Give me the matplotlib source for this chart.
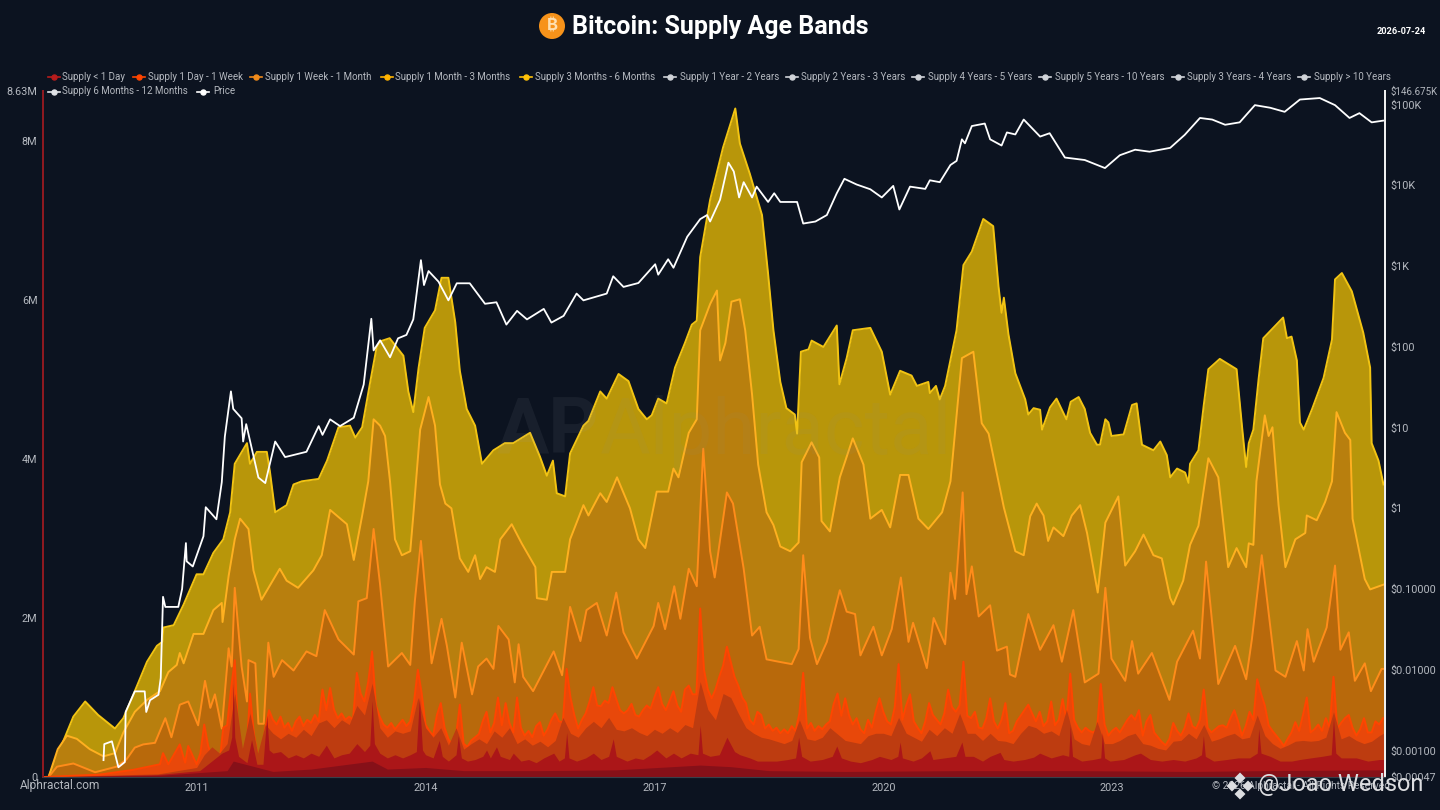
import matplotlib
matplotlib.use("Agg")
import matplotlib.pyplot as plt
from matplotlib.lines import Line2D
from matplotlib.patches import Ellipse, Polygon

plt.rcParams['font.family'] = ['Roboto', 'DejaVu Sans']

# ---------- data: years (decimal) and supply in millions of BTC ----------
t_a = [2009.00,2009.06,2009.21,2009.385,2009.54,2009.71,2009.93,2010.04,2010.19,2010.35,2010.48,2010.55,2010.565,2010.70,2010.83,2011.00,2011.09,2011.22,2011.35,2011.44,2011.50,2011.66,2011.70,2011.79,2011.92,2011.96,2012.03,2012.18,2012.27,2012.38,2012.60,2012.71,2012.86,2013.01,2013.08,2013.17,2013.27,2013.36,2013.405,
2013.53,2013.71,2013.775,2013.84,2013.91,2013.99,2014.125,2014.21,2014.30,2014.39,2014.45,2014.54,2014.65,2014.74,2014.89,2015.04,2015.15,2015.37,2015.50,2015.59,2015.67,2015.72,2015.83,2015.895,2016.07,2016.135,2016.29,2016.375,2016.53,2016.66,2016.79,2016.90,2016.965,2017.05,2017.16,2017.27,2017.40,2017.49,2017.555,2017.60,
2017.73,2017.90,2018.06,2018.12,2018.25,2018.41,2018.49,2018.56,2018.65,2018.73,2018.84,2018.87,2018.92,2019.02,2019.06,2019.215,2019.39,2019.425,2019.52,2019.60,2019.83,2019.98,2020.09,2020.22,2020.37,2020.44,2020.59,2020.61,2020.69,2020.74,2020.81,2020.96,2021.05,2021.16,2021.31,2021.44,2021.51,2021.55,2021.58,2021.64,2021.73,2021.86,2021.90,2021.97,2022.055,
2022.08,2022.185,2022.27,2022.40,2022.456,2022.56,2022.64,2022.71,2022.80,2022.84,2022.91,2022.95,2022.99,2023.15,2023.26,2023.32,2023.39,2023.54,2023.63,2023.715,2023.76,2023.85,2023.955,2024.00,2024.02,2024.13,2024.20,2024.26,2024.41,2024.63,2024.70,2024.755,2024.79,2024.85,2024.92,2024.98,2025.11,2025.24,2025.29,2025.35,2025.42,2025.46,2025.51,2025.62,2025.77,2025.88,2025.92,2026.01,2026.14,2026.29,2026.38,2026.40,2026.49,2026.555]
v_a = [0,0,0.35,0.76,0.95,0.78,0.61,0.74,1.08,1.45,1.65,1.70,1.88,1.91,2.17,2.55,2.55,2.82,2.99,3.33,3.94,4.20,3.94,4.09,4.09,3.85,3.33,3.42,3.68,3.72,3.75,3.98,4.40,4.42,4.27,4.40,4.94,5.41,5.48,
5.52,5.30,4.85,4.59,5.15,5.65,5.87,6.28,6.28,5.72,5.11,4.63,4.42,3.94,4.11,4.20,4.20,4.33,4.03,3.79,3.98,3.57,3.53,4.07,4.42,4.48,4.85,4.76,5.07,4.98,4.63,4.50,4.55,4.76,4.70,5.15,5.46,5.69,5.74,6.54,
7.26,7.92,8.41,7.97,7.59,7.07,6.33,5.62,4.97,4.64,4.56,4.32,5.35,5.38,5.49,5.41,5.68,4.94,5.27,5.62,5.65,5.35,4.81,5.11,5.05,4.92,4.97,4.83,4.92,4.75,4.92,5.62,6.44,6.61,7.02,6.93,6.17,5.84,6.03,5.57,5.08,4.75,4.56,4.64,4.62,
4.37,4.65,4.76,4.50,4.72,4.78,4.63,4.33,4.18,4.18,4.50,4.46,4.29,4.31,4.68,4.70,4.18,4.11,4.22,4.05,3.77,3.88,3.83,3.70,3.94,4.11,4.68,5.13,5.26,5.13,4.42,3.90,4.20,4.37,5.02,5.52,5.65,5.78,5.52,5.54,5.24,4.46,4.37,4.63,5.02,5.50,6.26,6.34,6.11,5.59,5.15,4.20,3.98,3.68]

t_b = [2009.00,2009.06,2009.18,2009.30,2009.43,2009.60,2009.78,2009.93,2010.04,2010.19,2010.35,2010.52,2010.63,2010.74,2010.78,2010.83,2010.96,2011.09,2011.22,2011.33,2011.34,2011.42,2011.50,2011.57,2011.68,2011.745,2011.85,2012.09,2012.18,2012.33,2012.53,2012.64,2012.75,2012.97,2013.06,2013.17,2013.25,2013.32,2013.405,
2013.47,2013.535,2013.60,2013.69,2013.80,2013.84,2013.93,2014.04,2014.125,2014.19,2014.26,2014.34,2014.45,2014.56,2014.65,2014.715,2014.80,2014.91,2014.98,2015.13,2015.26,2015.44,2015.46,2015.59,2015.655,2015.83,2015.895,2016.07,2016.135,2016.29,2016.375,2016.51,2016.68,2016.79,2016.88,2017.03,2017.18,2017.25,2017.315,2017.45,2017.555,2017.60,
2017.73,2017.82,2017.86,2017.93,2018.01,2018.12,2018.19,2018.28,2018.36,2018.47,2018.56,2018.65,2018.78,2018.89,2018.93,2019.06,2019.16,2019.19,2019.30,2019.43,2019.60,2019.74,2019.83,2019.98,2020.09,2020.22,2020.33,2020.46,2020.59,2020.77,2020.88,2021.03,2021.18,2021.29,2021.38,2021.58,2021.73,2021.84,2021.925,2022.01,2022.055,
2022.10,2022.16,2022.23,2022.36,2022.47,2022.58,2022.67,2022.81,2022.91,2023.08,2023.17,2023.30,2023.41,2023.54,2023.65,2023.76,2023.80,2023.93,2024.02,2024.13,2024.26,2024.39,2024.52,2024.63,2024.755,2024.79,2024.85,2024.89,2025.00,2025.05,2025.10,2025.18,2025.27,2025.40,2025.53,2025.55,2025.68,2025.79,2025.88,2025.94,2026.05,2026.12,2026.15,2026.31,2026.38,2026.555]
v_b = [0,0,0.35,0.52,0.48,0.35,0.26,0.30,0.56,0.82,0.97,1.08,1.32,1.41,1.56,1.43,1.80,1.80,2.10,2.19,1.95,2.53,2.99,3.25,3.12,2.60,2.23,2.62,2.47,2.38,2.60,2.79,3.36,3.18,2.73,3.29,3.72,4.50,4.42,
4.29,3.72,2.99,2.79,2.84,3.29,4.37,4.78,4.42,3.68,3.44,3.38,2.75,2.58,2.79,2.49,2.64,2.58,2.99,3.18,2.94,2.64,2.25,2.23,2.58,2.58,2.99,3.42,3.29,3.57,3.46,3.77,3.38,2.99,2.88,3.59,3.59,3.88,3.77,4.33,4.50,5.62,
5.95,6.12,5.24,5.46,5.98,6.01,5.62,4.81,3.93,3.33,3.17,2.90,2.84,2.95,3.96,4.21,4.02,3.22,3.09,3.77,4.26,3.93,3.25,3.36,3.14,3.80,3.80,3.25,3.12,3.33,3.72,5.27,5.35,4.45,4.32,3.39,2.84,2.79,3.28,3.44,3.36,
3.29,2.97,3.14,3.03,3.29,3.42,3.07,2.32,3.20,3.53,2.66,2.84,3.05,2.79,2.75,2.25,2.17,2.47,2.92,3.16,4.01,3.77,2.64,2.88,2.64,2.94,2.92,3.72,4.55,4.29,4.40,3.42,2.64,2.99,3.07,3.29,3.23,3.46,3.72,4.59,4.33,4.24,3.25,2.49,2.36,2.42]

t_c = [2009.00,2009.06,2009.17,2009.385,2009.67,2009.95,2010.08,2010.19,2010.30,2010.455,2010.59,2010.67,2010.78,2010.89,2011.02,2011.11,2011.18,2011.24,2011.33,2011.42,2011.46,2011.50,2011.59,2011.66,2011.68,2011.77,2011.81,2011.88,2011.94,2012.01,2012.12,2012.27,2012.44,2012.57,2012.68,2012.86,2013.06,2013.12,2013.23,2013.32,2013.405,
2013.51,2013.69,2013.80,2013.86,2013.94,2013.99,2014.08,2014.21,2014.28,2014.39,2014.475,2014.61,2014.69,2014.80,2014.89,2014.955,2015.09,2015.17,2015.22,2015.28,2015.41,2015.55,2015.68,2015.79,2015.895,2016.03,2016.11,2016.245,2016.375,2016.50,2016.595,2016.77,2016.99,2017.05,2017.14,2017.26,2017.34,2017.45,2017.555,2017.64,
2017.73,2017.79,2017.95,2018.03,2018.17,2018.28,2018.38,2018.47,2018.63,2018.80,2018.89,2018.95,2019.04,2019.13,2019.26,2019.43,2019.52,2019.63,2019.70,2019.87,2019.98,2020.11,2020.23,2020.33,2020.39,2020.57,2020.66,2020.81,2020.88,2020.94,2021.04,2021.09,2021.16,2021.25,2021.40,2021.49,2021.62,2021.66,2021.73,2021.90,2022.055,
2022.23,2022.34,2022.49,2022.64,2022.82,2022.91,2022.99,2023.17,2023.26,2023.34,2023.52,2023.75,2023.85,2024.06,2024.15,2024.23,2024.39,2024.61,2024.755,2024.83,2024.96,2025.14,2025.27,2025.42,2025.51,2025.56,2025.64,2025.81,2025.92,2025.99,2026.10,2026.18,2026.31,2026.39,2026.53,2026.555]
v_c = [0,0,0.13,0.17,0.06,0.13,0.22,0.37,0.41,0.43,0.74,0.50,0.91,0.95,0.65,1.21,0.87,1.04,0.61,1.62,1.39,2.38,1.39,0.95,1.47,1.43,0.67,0.67,1.69,1.26,1.47,1.34,1.58,1.52,2.10,1.73,1.54,2.21,2.25,3.12,2.42,
1.39,1.56,1.41,2.21,2.97,2.42,1.43,1.99,1.65,1.00,1.69,1.04,1.39,1.49,1.36,1.90,1.73,1.19,1.67,1.26,1.08,1.34,1.58,1.28,2.14,1.71,2.10,2.19,1.78,2.32,1.82,1.49,1.90,2.19,1.86,2.40,1.99,2.62,2.40,4.13,
2.84,2.51,3.58,3.44,2.62,1.78,1.89,1.48,1.45,1.42,1.61,2.79,1.75,1.42,1.70,2.35,2.08,2.05,1.53,1.89,1.53,1.86,2.51,1.70,1.94,1.37,2.00,1.67,2.57,2.24,3.58,2.30,2.65,2.02,2.16,1.59,1.64,1.29,1.26,2.05,1.60,
1.91,1.45,2.10,1.19,1.30,2.38,1.49,1.21,1.71,1.30,1.56,0.97,1.45,1.84,1.49,2.71,1.17,1.65,1.23,1.73,2.79,1.34,1.26,1.71,1.34,1.86,1.45,1.88,2.66,1.60,1.82,1.21,1.43,1.08,1.36,1.36]

# spiky band, read every 0.05 year from 2011 on
t_d_early = [2009.00,2009.73,2010.17,2010.52,2010.56,2010.63,2010.78,2010.85,2010.89]
v_d_early = [0,0.03,0.09,0.16,0.30,0.16,0.41,0.18,0.39]
v_d_grid = [
.16,.30,.66,.40,.24,.30,.18,.62,.65,1.10,1.47,.42,.22,.22,1.05,.55,.26,.17,.62,.84,
.72,.66,.76,.62,.68,.58,.70,.76,.64,.72,.68,.78,.70,1.10,.84,1.12,.85,.74,.80,.72,
.76,.72,1.31,1.05,.95,1.20,1.58,.90,.76,.66,.62,.68,.60,.66,.72,.64,.70,.95,1.35,1.05,
.66,.58,.52,.78,.93,.62,.48,.40,.52,.91,.42,.38,.46,.50,.54,.70,.82,.56,.68,1.00,
.65,.93,.68,.56,1.00,.62,.52,.58,.50,.64,.69,.52,.60,.72,.80,.70,.69,1.36,1.00,.78,
.61,.72,.80,.95,1.13,.90,.89,.96,.93,1.13,.98,.84,.80,.84,.92,.78,.76,.84,.90,.86,
1.00,1.13,.92,.84,.96,1.08,.90,.82,1.10,1.15,1.04,1.04,2.12,1.35,1.10,.99,1.10,1.26,1.40,1.64,
1.45,1.26,1.15,1.00,.93,.72,.66,.82,.78,.61,.66,.58,.62,.55,.60,.55,.64,.58,.80,1.31,
.61,.68,.58,.64,.60,.66,.70,.92,1.05,.77,.99,.78,.66,.74,.60,.55,.72,.62,.82,.99,
.82,.70,.66,.88,1.42,.72,.90,1.04,.70,.62,.55,.70,.93,.78,.72,.66,.80,1.10,.88,.82,
.90,1.45,.77,.74,.82,.62,.61,.74,.99,.70,.61,.72,.93,.55,.58,.70,.77,.84,.91,.80,
.70,.82,.64,.70,.95,.65,.72,.98,.72,1.30,.72,.62,.56,.62,.58,.56,.60,1.17,.66,.52,
.58,.62,.56,.64,.72,.78,.72,.84,.52,.70,.78,.56,.50,.44,.40,.48,.68,.58,.52,.62,
.80,.64,.61,.72,1.10,.62,.56,.60,.64,.65,.62,.74,.84,.70,.52,.64,.82,.72,1.23,1.05,
.90,.65,.58,.52,.46,.39,.48,.56,.69,.58,.78,1.00,.56,.60,.66,.58,.74,.62,1.26,.61,
.68,.74,.78,.62,.52,.60,.74,.56,.56,.70,.66,.74]

# smoother band beneath it, read every 0.1 year from 2011 on
t_e_early = [2009.00,2010.50]
v_e_early = [0,0.04]
v_e_grid = [
.12,.28,.38,.30,.42,1.05,.36,.80,.30,.66,
.55,.48,.55,.50,.60,.52,.68,.72,.62,.72,
.66,.90,.78,1.18,.62,.50,.58,.55,.58,1.00,
.62,.50,.62,.40,.62,.35,.42,.48,.42,.58,
.50,.62,.42,.48,.40,.45,.38,.46,.75,.55,
.50,.62,.70,.62,.75,.60,.58,.62,.56,.52,
.60,.55,.62,.56,.66,.62,1.20,.85,.72,1.05,
1.00,.80,.62,.55,.50,.48,.45,.42,.46,.72,
.48,.46,.50,.62,.54,.46,.44,.42,.52,.55,
.55,.52,.75,.55,.50,.45,.60,.52,.62,.55,
.80,.55,.55,.46,.55,.46,.45,.42,.55,.65,
.62,.55,.58,.52,.85,.48,.42,.40,.70,.42,
.42,.46,.52,.55,.42,.40,.36,.34,.45,.46,
.55,.48,.66,.45,.48,.52,.55,.48,.50,.78,
.52,.42,.36,.40,.45,.46,.45,.46,.50,.82,
.48,.52,.46,.42,.45,.52]

t_f = [2009.00,2010.48,2011.04,2011.33,2011.42,2011.46,2011.48,2011.50,2011.55,2011.66,2011.72,2011.79,2011.87,2011.92,2011.95,2012.00,
2012.1,2012.2,2012.3,2012.4,2012.5,2012.6,2012.7,2012.8,2012.9,2013.0,2013.1,2013.2,2013.27,2013.30,2013.33,2013.4,2013.5,2013.6,2013.7,2013.8,2013.88,2013.92,2013.96,
2014.0,2014.1,2014.18,2014.22,2014.3,2014.4,2014.43,2014.47,2014.55,2014.65,2014.75,2014.8,2014.85,2014.93,2014.98,2015.1,2015.15,2015.25,2015.35,2015.45,2015.55,2015.68,2015.75,2015.82,2015.85,2015.88,2015.98,
2016.1,2016.2,2016.3,2016.4,2016.46,2016.5,2016.64,2016.75,2016.85,2016.95,2017.03,2017.15,2017.25,2017.35,2017.47,2017.57,2017.6,2017.63,2017.73,2017.85,2017.95,2018.05,2018.12,2018.25,2018.35,2018.47,2018.6,2018.75,2018.85,2018.89,2018.93,
2019.04,2019.2,2019.33,2019.39,2019.45,2019.57,2019.7,2019.85,2019.95,2020.1,2020.19,2020.22,2020.25,2020.39,2020.5,2020.61,2020.65,2020.8,2020.95,2021.03,2021.07,2021.18,2021.3,2021.4,2021.53,2021.58,2021.7,2021.85,2021.97,
2022.05,2022.2,2022.35,2022.43,2022.45,2022.48,2022.6,2022.75,2022.85,2022.87,2022.9,2022.97,2023.15,2023.3,2023.37,2023.5,2023.65,2023.8,2023.95,2024.1,2024.17,2024.195,2024.22,2024.33,2024.5,2024.65,2024.8,2024.9,2024.92,2024.95,
2025.07,2025.2,2025.35,2025.46,2025.6,2025.75,2025.87,2025.9,2025.93,2026.0,2026.2,2026.35,2026.5,2026.555]
v_f = [0,0.03,0.08,0.30,0.34,0.50,1.18,0.50,0.26,0.18,0.47,0.16,0.16,0.78,0.34,0.30,
.32,.24,.28,.24,.30,.26,.40,.24,.28,.30,.42,.32,.40,.96,.42,.30,.24,.28,.24,.28,.32,1.00,.34,
.28,.24,.46,.26,.20,.28,.52,.24,.20,.22,.26,.34,.24,.38,.26,.22,.30,.20,.22,.18,.24,.30,.20,.24,.56,.24,.20,
.24,.30,.22,.26,.48,.26,.20,.24,.22,.28,.34,.24,.30,.24,.30,.28,.65,.30,.26,.28,.50,.32,.28,.24,.20,.20,.20,.22,.24,.50,.26,
.20,.22,.26,.39,.24,.20,.18,.22,.26,.22,.26,.44,.24,.20,.24,.33,.22,.24,.26,.44,.26,.26,.20,.26,.31,.22,.20,.22,.25,
.30,.24,.28,.26,.65,.26,.20,.22,.24,.56,.24,.20,.22,.28,.30,.22,.20,.22,.20,.24,.28,.52,.26,.20,.22,.24,.24,.30,.61,.30,
.26,.20,.20,.22,.24,.26,.28,.74,.30,.24,.24,.20,.22,.22]

t_g = [2009.00,2010.50,2011.40,2011.48,2012.00,2012.50,2013.30,2013.50,2014.00,2014.50,2015.50,2016.50,2017.60,2018.00,2018.50,2019.50,2021.00,2022.50,2024.00,2025.00,2026.555]
v_g = [0,0.02,0.08,0.20,0.07,0.10,0.20,0.10,0.12,0.08,0.08,0.09,0.15,0.13,0.08,0.07,0.08,0.08,0.07,0.08,0.09]

t_price = [2009.78,2009.79,2009.89,2009.975,2010.06,2010.07,2010.19,2010.32,2010.34,2010.39,2010.50,2010.53,2010.56,2010.59,2010.76,2010.81,2010.86,2010.87,2010.95,2011.09,2011.12,2011.26,2011.33,2011.37,2011.45,2011.48,2011.59,2011.61,2011.65,2011.81,2011.90,2012.03,2012.16,2012.44,2012.60,2012.65,2012.75,2012.88,2013.06,2013.19,2013.29,2013.32,2013.405,
2013.535,2013.64,2013.75,2013.84,2013.94,2013.98,2014.04,2014.17,2014.30,2014.41,2014.58,2014.78,2014.93,2015.06,2015.20,2015.33,2015.55,2015.65,2015.81,2015.98,2016.07,2016.375,2016.46,2016.595,2016.79,2017.01,2017.05,2017.18,2017.25,2017.36,2017.43,2017.60,
2017.69,2017.73,2017.86,2017.97,2018.04,2018.11,2018.17,2018.28,2018.34,2018.49,2018.57,2018.65,2018.87,2018.95,2019.11,2019.26,2019.39,2019.49,2019.65,2019.83,2019.98,2020.13,2020.21,2020.35,2020.55,2020.61,2020.74,2020.88,2020.96,2021.03,2021.07,2021.16,2021.33,2021.40,2021.55,2021.62,2021.73,2021.84,2022.055,
2022.18,2022.38,2022.64,2022.905,2023.10,2023.30,2023.49,2023.76,2023.95,2024.15,2024.31,2024.48,2024.67,2024.87,2025.07,2025.26,2025.46,2025.72,2025.92,2026.11,2026.24,2026.40,2026.55]
v_price = [0.00076,0.0012,0.0013,0.00062,0.00072,0.0030,0.0054,0.0054,0.0030,0.0042,0.0049,0.0079,0.080,0.060,0.060,0.10,0.37,0.22,0.19,0.45,1.03,0.73,2.1,7.7,28,17,13,6.7,11,2.4,2.05,6.7,4.3,5.0,10.4,8.1,12.6,10.4,13.2,34,222,90,120,
74,127,140,218,1180,580,865,640,375,610,610,340,355,188,278,218,294,199,241,455,375,455,745,550,615,1050,780,1210,950,1630,2300,3800,
4270,3550,6600,19000,14800,7050,10900,7050,9600,6200,7950,6200,6200,3350,3550,4270,7950,12000,10200,8900,7050,9800,5000,9600,9000,11500,10900,17800,20000,37000,33000,54000,58000,37000,31000,45000,42500,65000,40000,
44000,22000,20500,16300,23500,27500,26000,29000,42000,68000,65000,56000,60000,98000,91000,81000,115000,120000,98000,68000,78000,60000,63000]

legend_row1 = ["Supply < 1 Day","Supply 1 Day - 1 Week","Supply 1 Week - 1 Month","Supply 1 Month - 3 Months","Supply 3 Months - 6 Months","Supply 1 Year - 2 Years","Supply 2 Years - 3 Years","Supply 4 Years - 5 Years","Supply 5 Years - 10 Years","Supply 3 Years - 4 Years","Supply > 10 Years"]
legend_row1_col = ["#b71c1c","#ff4500","#f08a1a","#ffb300","#ffc107","#d0d3d8","#d0d3d8","#d0d3d8","#d0d3d8","#d0d3d8","#d0d3d8"]
legend_row2 = ["Supply 6 Months - 12 Months","Price"]
legend_row2_col = ["#e0e2e6","#ffffff"]
left_ticks = [0,2,4,6,8,8.63]
left_labels = ["0","2M","4M","6M","8M","8.63M"]
right_ticks = [0.00047,0.001,0.01,0.1,1,10,100,1000,10000,100000,146675]
right_labels = ["$0.00047","$0.00100","$0.01000","$0.10000","$1","$10","$100","$1K","$10K","$100K","$146.675K"]
x_ticks = [2011,2014,2017,2020,2023]

t_d = t_d_early + [2011 + i * 0.05 for i in range(len(v_d_grid))]
v_d = v_d_early + v_d_grid
t_e = t_e_early + [2011 + i * 0.1 for i in range(len(v_e_grid))] + [2026.555]
v_e = v_e_early + v_e_grid + [0.55]

# ---------- layout ----------
W, H = 1440, 810
BG = "#0c1320"
TXT = "#b4b8bf"
fig = plt.figure(figsize=(14.4, 8.1), dpi=100, facecolor=BG)
ax = fig.add_axes([43/W, 1-777/H, (1385-43)/W, (777-91)/H], facecolor=BG)
ax.set_xlim(2008.987, 2026.575)
ax.set_ylim(0, 8.63)

layers = [
    (t_a, v_a, "#b8960a", "#f2c413", 1.4),
    (t_b, v_b, "#b87f0e", "#ffb020", 1.4),
    (t_c, v_c, "#b8690b", "#ff8c1a", 1.4),
    (t_d, v_d, "#e8480a", "#ff4500", 1.4),
    (t_e, v_e, "#bd3c10", None, 0),
    (t_f, v_f, "#ab1618", None, 0),
    (t_g, v_g, "#861018", None, 0),
]
for i, (t, v, fc, lc, lw) in enumerate(layers):
    ax.fill_between(t, v, 0, color=fc, lw=0, zorder=2 + i)
    if lc:
        ax.plot(t, v, color=lc, lw=lw, zorder=2 + i, solid_joinstyle="round")

ax2 = ax.twinx()
ax2.set_yscale("log")
ax2.set_ylim(0.00047, 146675)
ax2.set_zorder(ax.get_zorder() + 1)
ax2.patch.set_visible(False)
ax2.plot(t_price, v_price, color="#ffffff", lw=1.3, zorder=20)

ax.set_xticks(x_ticks)
ax.set_xticklabels([str(x) for x in x_ticks], fontsize=7.8, color=TXT)
ax.set_yticks(left_ticks)
ax.set_yticklabels(left_labels, fontsize=7.8, color=TXT)
ax.tick_params(axis="both", length=0, pad=4)
ax2.set_yticks(right_ticks)
ax2.set_yticklabels(right_labels, fontsize=7.8, color=TXT)
ax2.get_yticklabels()[-1].set_fontsize(7.0)
ax2.minorticks_off()
ax2.tick_params(axis="y", length=0, pad=4)
for a in (ax, ax2):
    a.spines["top"].set_visible(False)
    a.spines["left"].set_color("#8f1a20")
    a.spines["left"].set_linewidth(1.4)
    a.spines["right"].set_color("#f0f0f0")
    a.spines["right"].set_linewidth(1.4)
    a.spines["bottom"].set_color("#3a3f4a")
    a.spines["bottom"].set_linewidth(0.8)

def fx(px): return px / W
def fy(py): return 1 - py / H

# watermark
fig.text(fx(600), fy(432), "Alphractal", fontsize=56, color="#8a8f98", alpha=0.07, va="center", ha="left", zorder=30)
fig.text(fx(497), fy(432), "AP", fontsize=56, color="#9aa0aa", alpha=0.09, va="center", ha="left", fontweight="bold", zorder=30)

# title
fig.add_artist(Ellipse((fx(552), fy(26)), width=26/W, height=26/H, transform=fig.transFigure, facecolor="#f7931a", edgecolor="none"))
fig.text(fx(552), fy(26), "\u20bf", fontsize=12, color="#ffe0b0", ha="center", va="center", fontweight="bold",
         family=['Inter', 'Noto Sans', 'Open Sans', 'Lato', 'Liberation Sans', 'DejaVu Sans'])
fig.text(fx(572), fy(27), "Bitcoin: Supply Age Bands", fontsize=18, color="white", fontweight="bold", ha="left", va="center")
fig.text(fx(1426), fy(31), "2026-07-24", fontsize=6.6, color="white", fontweight="bold", ha="right", va="center")

# legend
row1_marker = [54,139,256,387,526,670,792,918,1045,1178,1304]
row1_text = [62.5,148,265,395,535,680,801,928,1055,1187,1314]
row2_marker = [54,203]
row2_text = [62.5,213]
def legend_row(labels, cols, mk, tx, py):
    for lab, c, m, t in zip(labels, cols, mk, tx):
        fig.add_artist(Line2D([fx(m-6), fx(m+6)], [fy(py), fy(py)], transform=fig.transFigure, color=c, lw=1.2))
        fig.add_artist(Line2D([fx(m)], [fy(py)], transform=fig.transFigure, color=c, marker="o", markersize=3.6, lw=0))
        fig.text(fx(t), fy(py), lab, fontsize=7.0, color=TXT, ha="left", va="center")
legend_row(legend_row1, legend_row1_col, row1_marker, row1_text, 76.5)
legend_row(legend_row2, legend_row2_col, row2_marker, row2_text, 91.5)

# footer
fig.text(fx(20), fy(786), "Alphractal.com", fontsize=8.6, color=TXT, ha="left", va="center", zorder=31)
fig.text(fx(1212), fy(786), "\u00a9 2026 Alphractal - All Rights Reserved", fontsize=7.4, color=TXT, ha="left", va="center", zorder=31)
cx, cy, s = 1240, 786, 5.5
for dx, dy in [(0,-8),(0,8),(-8,0),(8,0)]:
    fig.add_artist(Polygon([(fx(cx+dx), fy(cy+dy-s)), (fx(cx+dx+s), fy(cy+dy)), (fx(cx+dx), fy(cy+dy+s)), (fx(cx+dx-s), fy(cy+dy))],
                           closed=True, transform=fig.transFigure, facecolor="#dcdde0", edgecolor="none", zorder=32))
fig.text(fx(1258), fy(785), "@Joao Wedson", fontsize=17, color="#dcdde0", ha="left", va="center", zorder=32)

fig.savefig("out.png", dpi=100, facecolor=BG)
